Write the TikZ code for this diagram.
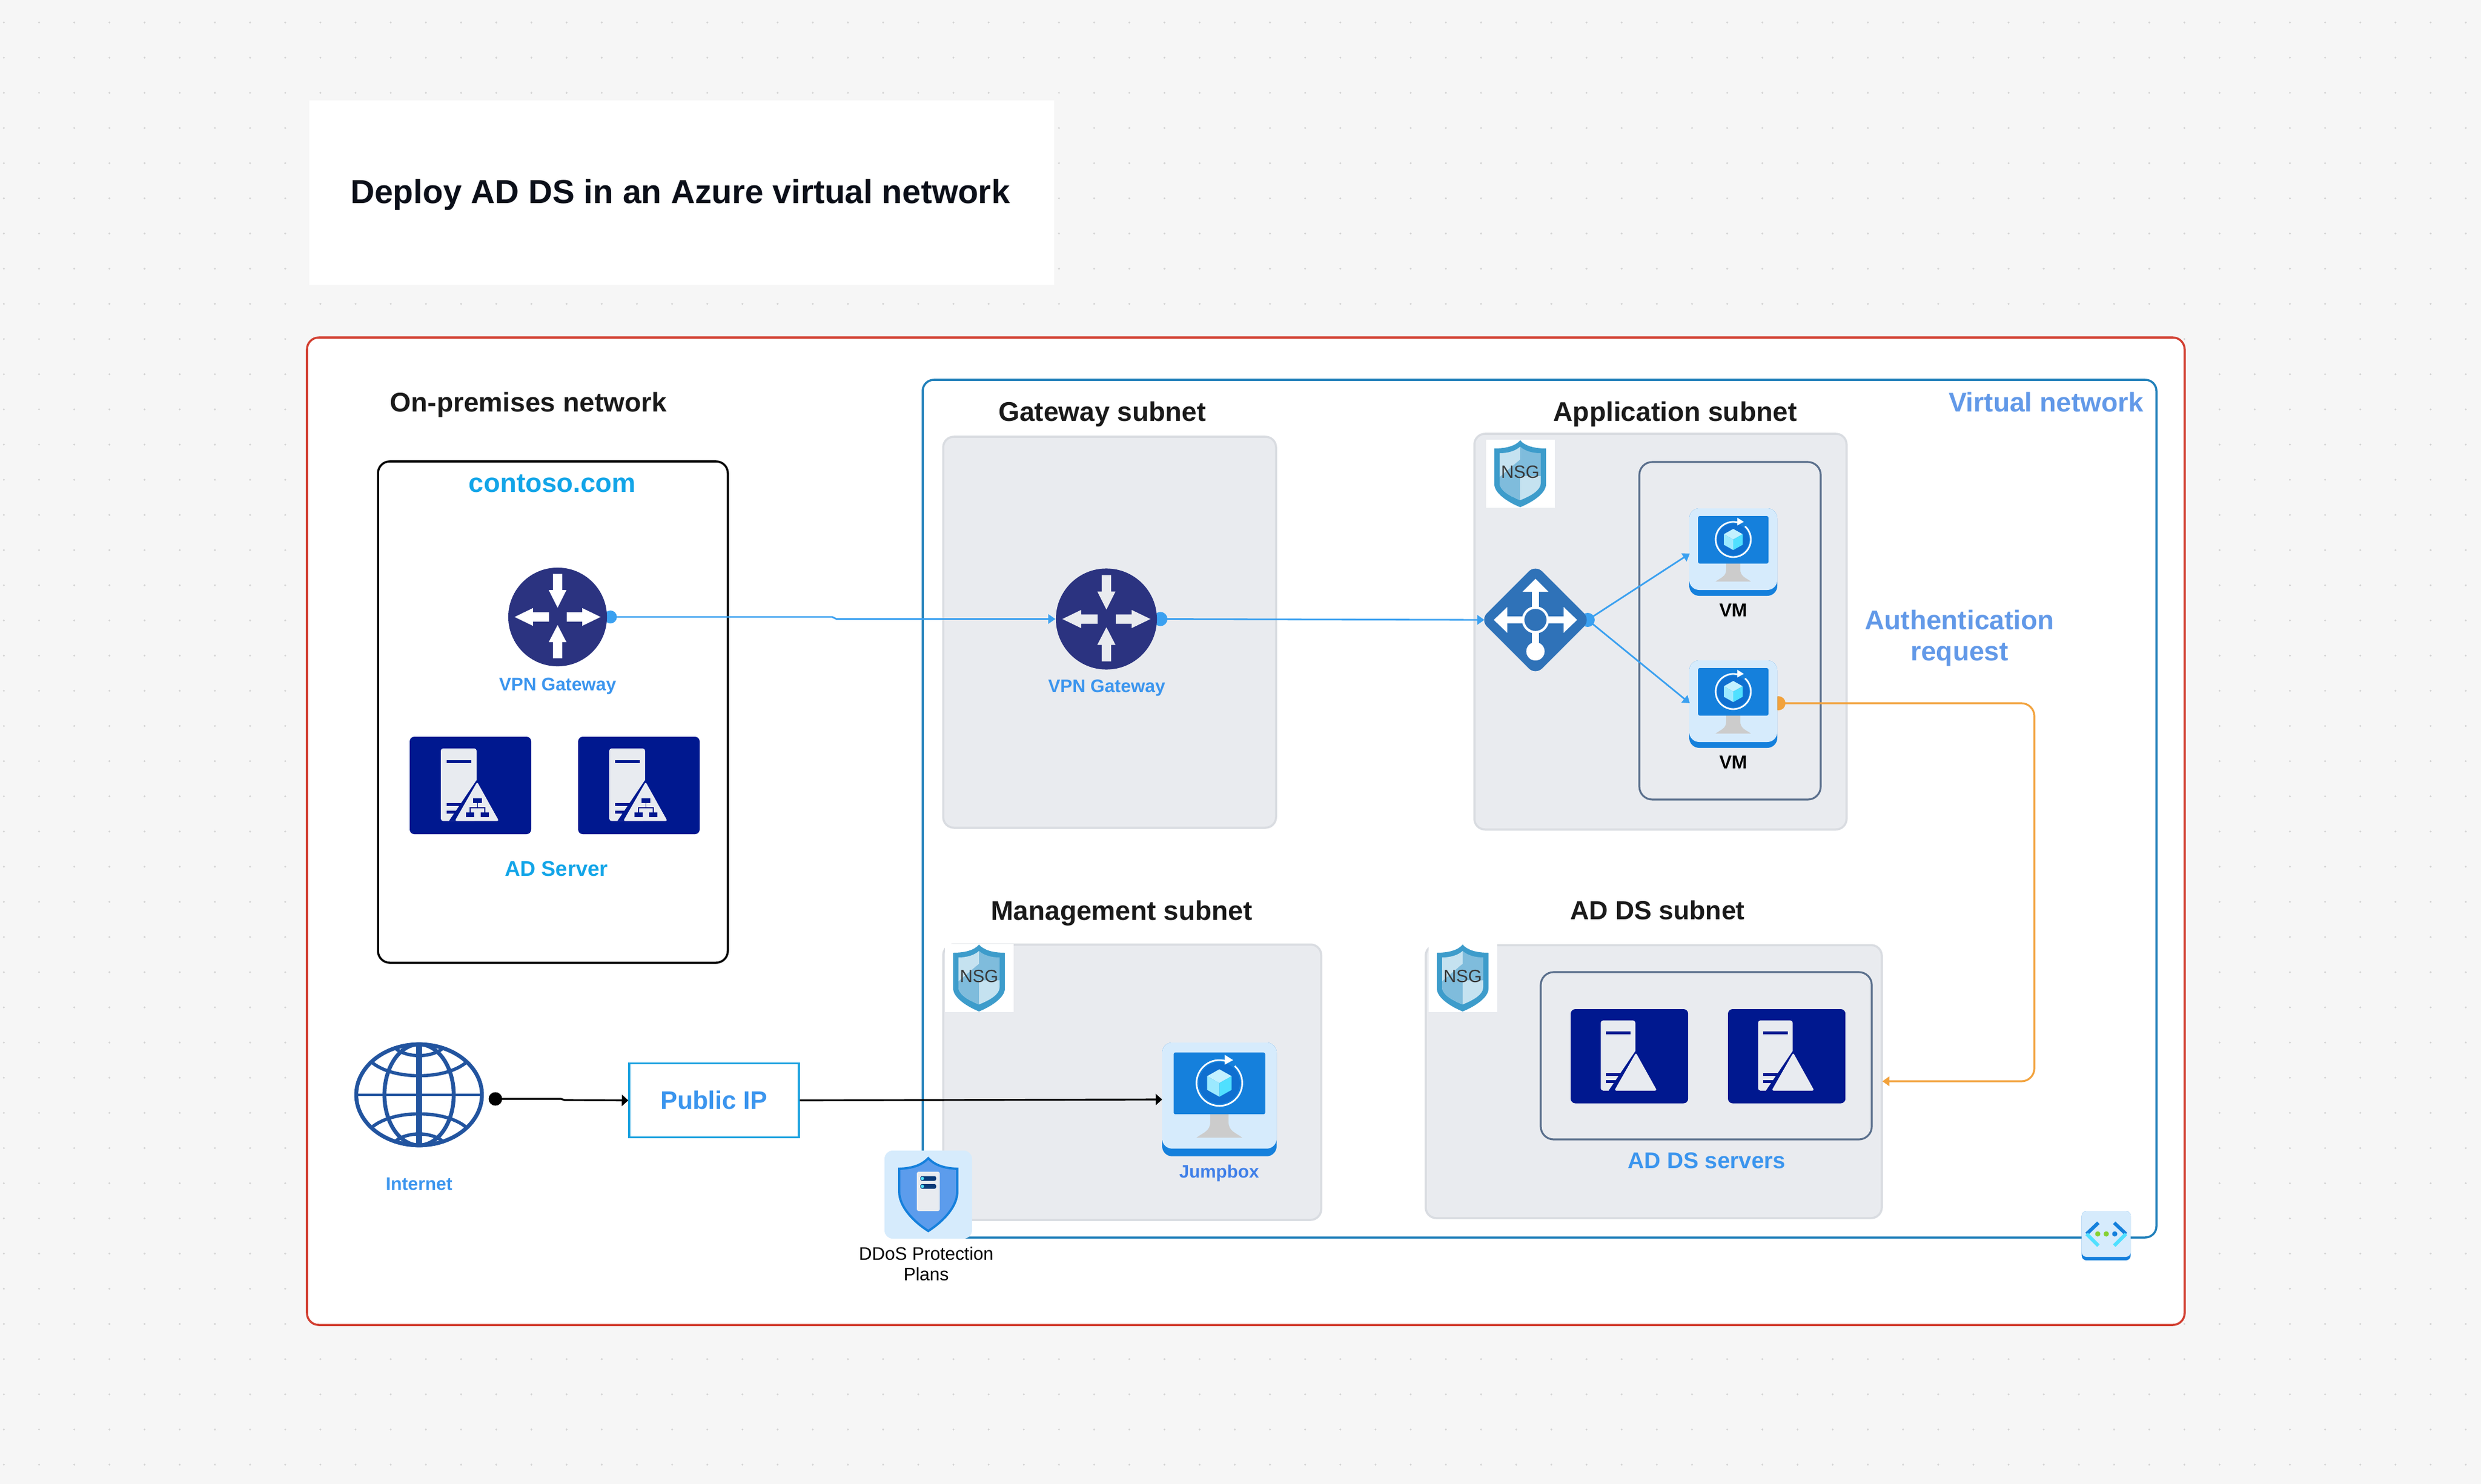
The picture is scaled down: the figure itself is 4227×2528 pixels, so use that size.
\documentclass[tikz,border=0pt]{standalone}
\usepackage{fontspec}
\setmainfont{Liberation Sans}
\usetikzlibrary{arrows.meta,calc}
\definecolor{bgc}{HTML}{F6F6F6}
\definecolor{dotc}{HTML}{D4D4D4}
\definecolor{redb}{HTML}{D23F31}
\definecolor{vnet}{HTML}{2180BA}
\definecolor{subf}{HTML}{E9EBEF}
\definecolor{subd}{HTML}{D9DCE1}
\definecolor{innerb}{HTML}{5A6F8C}
\definecolor{gwc}{HTML}{2B3380}
\definecolor{tilec}{HTML}{00188F}
\definecolor{svrc}{HTML}{E8EBF0}
\definecolor{lblue}{HTML}{3B95EE}
\definecolor{softblue}{HTML}{6299E8}
\definecolor{jumpc}{HTML}{3F7FE8}
\definecolor{sky}{HTML}{12A5E8}
\definecolor{pipc}{HTML}{1FA3E0}
\definecolor{wire}{HTML}{3AA0F0}
\definecolor{amber}{HTML}{F2A23C}
\definecolor{routerc}{HTML}{2F72B8}
\definecolor{tilelight}{HTML}{D6EBFC}
\definecolor{azure}{HTML}{1580DC}
\definecolor{standc}{HTML}{CCCCCC}
\definecolor{cubea}{HTML}{C3F1FF}
\definecolor{cubeb}{HTML}{9CE9FF}
\definecolor{cubec}{HTML}{50E0FF}
\definecolor{ringd}{HTML}{0F6FD0}
\definecolor{shout}{HTML}{3D9CCB}
\definecolor{shpale}{HTML}{C5E2F0}
\definecolor{shdark}{HTML}{7FBCDC}
\definecolor{globec}{HTML}{22549F}
\definecolor{ttl}{HTML}{0B0F19}
\definecolor{headc}{HTML}{1A1A1A}
\definecolor{ddosf}{HTML}{5C9CEC}
\definecolor{ddosr}{HTML}{0A3A78}
\definecolor{leaf}{HTML}{86D133}
\colorlet{gwfg}{white}
\tikzset{
  subnet/.style={draw=subd,fill=subf,line width=1pt,rounded corners=.18cm},
  innerbox/.style={draw=innerb,line width=.9pt,rounded corners=.22cm},
  heading/.style={font=\fontsize{13.1}{15}\selectfont\bfseries,text=headc,inner sep=0pt},
  bluehead/.style={font=\fontsize{13.1}{15}\selectfont\bfseries,text=softblue,inner sep=0pt,align=center},
  smalllabel/.style={font=\fontsize{8.8}{10.4}\selectfont\bfseries,text=lblue,inner sep=0pt},
  wireline/.style={draw=wire,line width=.8pt},
  wirearrow/.style={wireline,-{Triangle[length=.12cm,width=.16cm]}},
  blackline/.style={draw=black,line width=.9pt},
  blackarrow/.style={blackline,-{Triangle[length=.11cm,width=.19cm]}},
  amberarrow/.style={draw=amber,line width=.9pt,rounded corners=.22cm,-{Triangle[length=.12cm,width=.16cm]}},
  portdot/.style={circle,inner sep=0pt,minimum size=#1},
  gateway/.pic={
    \fill[gwc] (0,0) circle[radius=.86cm];
    \fill[gwfg] (-8,-75)--(8,-75)--(8,-47)--(15.5,-47)--(0,-16)--(-15.5,-47)--(-8,-47)--cycle;
    \fill[gwfg] (-8,72)--(8,72)--(8,44)--(15.5,44)--(0,14)--(-15.5,44)--(-8,44)--cycle;
    \fill[gwfg] (-15,-8)--(-43,-8)--(-43,-15.5)--(-75,0)--(-43,15.5)--(-43,8)--(-15,8)--cycle;
    \fill[gwfg] (16,-8)--(43,-8)--(43,-15.5)--(75,0)--(43,15.5)--(43,8)--(16,8)--cycle;
  },
  nsg/.pic={
    \fill[white] (-58,-58) rectangle (59,58);
    \fill[shout] (0,-57) .. controls (-8,-47) and (-25,-43) .. (-44,-43) -- (-44,18) .. controls (-44,33) and (-22,48) .. (0,57)
      .. controls (22,48) and (44,33) .. (44,18) -- (44,-43) .. controls (25,-43) and (8,-47) .. (0,-57) -- cycle;
    \begin{scope}
      \clip (0,-46) .. controls (-8,-39) and (-20,-35) .. (-35,-35) -- (-35,16) .. controls (-35,28) and (-18,38) .. (0,45)
      .. controls (18,38) and (35,28) .. (35,16) -- (35,-35) .. controls (20,-35) and (8,-39) .. (0,-46) -- cycle;
      \fill[shpale] (-40,-50) rectangle (0,50);
      \fill[shdark] (-40,44) -- (-40,10) -- (-5,-20) -- (0,-24) -- (0,50) -- cycle;
      \fill[shdark] (0,-50) rectangle (40,4);
      \fill[shpale] (0,4) rectangle (40,50);
    \end{scope}
    \node[inner sep=0pt,text=black!78,font=\fontsize{8.6}{10}\selectfont] at (0,-3) {NSG};
  },
  vmicon/.pic={
    \fill[azure,rounded corners=.17cm] (0,0) rectangle (150,149);
    \fill[tilelight,rounded corners=.17cm] (0,0) rectangle (150,139);
    \fill[standc] (63,90) -- (87,90) -- (87,104) .. controls (87,116) and (96,118) .. (105,124.5) -- (45,124.5) .. controls (54,118) and (63,116) .. (63,104) -- cycle;
    \fill[azure,rounded corners=.03cm] (15,13) rectangle (135,94);
    \fill[ringd] (75,53) circle[radius=.27cm];
    \draw[white,line width=.8pt] plot[domain=-73:-408,samples=50] ({75+30*cos(\x)},{53+30*sin(\x)});
    \fill[white] (82,16) -- (93,23) -- (82,29) -- cycle;
    \fill[cubea] (75,35) -- (91,44) -- (75,53) -- (59,44) -- cycle;
    \fill[cubeb] (59,44) -- (75,53) -- (75,71) -- (59,62) -- cycle;
    \fill[cubec] (91,44) -- (75,53) -- (75,71) -- (91,62) -- cycle;
  },
  adtile/.pic={
    \fill[tilec,rounded corners=.08cm] (0,0) rectangle (207,166);
    \fill[svrc,rounded corners=.04cm] (53,20) -- (114,20) -- (114,143.5) -- (53,143.5) -- cycle;
    \fill[tilec] (62.5,39.5) rectangle (105,44.5);
    \fill[tilec] (62.5,112.5) rectangle (100,117.5);
    \fill[tilec] (62.5,125.5) rectangle (100,130.5);
    \fill[tilec] (67,143.5) -- (114,74) -- (150,120) -- (150,143.5) -- cycle;
    \fill[svrc,rounded corners=.03cm] (115,77) -- (152,143.5) -- (77,143.5) -- cycle;
  },
  adnet/.pic={
    \fill[tilec] (108,104.5) rectangle (123,112.5);
    \fill[tilec] (96,129) rectangle (110,137);
    \fill[tilec] (121.4,129) rectangle (135,137);
    \draw[tilec,line width=.5pt] (115.5,112) -- (115.5,121) (103,129) -- (103,121) -- (128,121) -- (128,129);
  },
}
\begin{document}
\begin{tikzpicture}[x=.01cm,y=-.01cm]
\useasboundingbox (0,0) rectangle (4227,2528);
\fill[bgc] (0,0) rectangle (4227,2528);
\foreach \i in {0,...,70} {
  \fill[dotc] foreach \j in {0,...,41} { ({6.6+59.92*\i},{38.3+59.92*\j}) circle[radius=.018cm] };
}
% panels
\node[fill=white,minimum width=12.69cm,minimum height=3.14cm,inner sep=0pt,anchor=north west] (titlebox) at (526,170) {};
\node[inner sep=0pt,text=ttl,font=\fontsize{16.15}{20}\selectfont\bfseries] (title) at (1159,332) {Deploy AD DS in an Azure virtual network};
\draw[redb,fill=white,line width=1pt,rounded corners=.2cm] (523,575) rectangle (3722,2257);
\draw[vnet,line width=1pt,rounded corners=.19cm] (1572,647) rectangle (3674,2108);

% on premises
\node[heading] (onprem) at (900.5,690) {On-premises network};
\draw[black,line width=1pt,rounded corners=.2cm] (644,786) rectangle (1240,1640);
\node[inner sep=0pt,text=sky,font=\fontsize{13}{15}\selectfont\bfseries] (contoso) at (941,824) {contoso.com};

\node[portdot=.22cm,fill=wire] (gw1dot) at (1040,1051) {};
\pic[scale=.977] at (950,1051) {gateway};
\node[smalllabel] (gw1lbl) at (950,1169) {VPN Gateway};
\pic at (698,1255) {adtile}; \pic at (698,1255) {adnet};
\pic at (985,1255) {adtile}; \pic at (985,1255) {adnet};
\node[inner sep=0pt,text=sky,font=\fontsize{10.3}{12}\selectfont\bfseries] (adserver) at (948,1480) {AD Server};

% subnets
\draw[subnet] (1607,744) rectangle (2174,1410);
\node[heading] (gwsub) at (1878,706) {Gateway subnet};
\draw[subnet] (2512,739) rectangle (3146,1413);
\node[heading] (appsub) at (2854,706) {Application subnet};
\draw[subnet] (1607,1609) rectangle (2251,2078);
\node[heading] (mgmtsub) at (1911,1556) {Management subnet};
\draw[subnet] (2429,1610) rectangle (3206,2075);
\node[heading,font=\fontsize{12.7}{15}\selectfont\bfseries] (addssub) at (2824,1551) {AD DS subnet};
\node[bluehead] (vnetlbl) at (3486,685) {Virtual network};
\node[bluehead,font=\fontsize{13.1}{15.3}\selectfont\bfseries] (auth) at (3338.5,1087) {Authentication\\request};

\pic at (2590,807) {nsg};
\pic at (1668,1666) {nsg};
\pic at (2492,1666) {nsg};

% inner boxes
\draw[innerbox] (2793,787) rectangle (3102,1362);
\draw[innerbox] (2625,1656) rectangle (3189,1941);

% gateway 2
\node[portdot=.24cm,fill=wire] (gw2dot) at (1977,1054.5) {};
\colorlet{gwfg}{subf}
\pic at (1885,1054.5) {gateway};
\colorlet{gwfg}{white}
\coordinate (gw2in) at (1798,1054.5);
\node[smalllabel] (gw2lbl) at (1885.5,1172) {VPN Gateway};

% router
\node[portdot=.24cm,fill=wire] (rdot) at (2705,1056) {};
\coordinate (rin) at (2529,1056);
\fill[routerc,rounded corners=.16cm] (2616,962) -- (2710,1056) -- (2616,1150) -- (2522,1056) -- cycle;
\begin{scope}[shift={(2616,1056)}]
  \fill[white] (-6,-50) rectangle (6,40);
  \fill[white] (-22,-48) -- (0,-70) -- (22,-48) -- cycle;
  \fill[white] (-50,-6) rectangle (50,6);
  \fill[white] (-48,-22) -- (-71,0) -- (-48,22) -- cycle;
  \fill[white] (48,-22) -- (71,0) -- (48,22) -- cycle;
  \fill[white] (0,53.6) circle[radius=.156cm];
  \fill[routerc,draw=white,line width=1.2pt] (0,0) circle[radius=.21cm];
\end{scope}

% VMs
\pic at (2878,866) {vmicon};
\coordinate (vm1in) at (2879,943);
\node[inner sep=0pt,font=\fontsize{9}{11}\selectfont\bfseries] (vm1lbl) at (2953,1040) {VM};
\node[portdot=.24cm,fill=amber] (vm2dot) at (3030,1198) {};
\pic at (2878,1125) {vmicon};
\coordinate (vm2in) at (2879,1198);
\node[inner sep=0pt,font=\fontsize{9}{11}\selectfont\bfseries] (vm2lbl) at (2953,1299) {VM};

% AD DS servers
\pic[scale=.967] at (2676,1719) {adtile};
\pic[scale=.967] at (2944,1719) {adtile};
\node[inner sep=0pt,text=lblue,font=\fontsize{11}{13}\selectfont\bfseries] (addslbl) at (2908,1977) {AD DS servers};

% jumpbox
\pic[scale=1.3] at (1980,1776) {vmicon};
\coordinate (jumpin) at (1980,1873);
\node[inner sep=0pt,text=jumpc,font=\fontsize{8.7}{10}\selectfont\bfseries] (jumplbl) at (2077,1999) {Jumpbox};

% internet
\begin{scope}[globec,line width=1.9pt]
  \draw (714,1865) ellipse[x radius=1.07cm,y radius=.86cm];
  \draw (714,1865) ellipse[x radius=.59cm,y radius=.86cm];
  \draw[line width=2.6pt] (714,1778) -- (714,1952);
  \draw[line width=1pt] (610,1865) -- (818,1865);
  \draw[line width=1.6pt] (634,1810) .. controls (670,1840) and (758,1840) .. (794,1810);
  \draw[line width=1.6pt] (634,1920) .. controls (670,1890) and (758,1890) .. (794,1920);
  \draw[line width=1.6pt] (675,1787) .. controls (695,1802) and (733,1802) .. (753,1787);
  \draw[line width=1.6pt] (675,1943) .. controls (695,1928) and (733,1928) .. (753,1943);
\end{scope}
\node[smalllabel] (netlbl) at (714,2017) {Internet};
\node[portdot=.23cm,fill=black] (netdot) at (844,1872) {};
\node[draw=pipc,line width=1.1pt,text=lblue,inner sep=0pt,minimum width=2.88cm,minimum height=1.26cm,font=\fontsize{12.3}{14}\selectfont\bfseries] (pip) at (1216.5,1874.5) {Public IP};

% DDoS
\fill[tilelight,rounded corners=.14cm] (1507,1960) rectangle (1656,2110);
\draw[azure,fill=ddosf,line width=1.1pt] (1581.5,1973) .. controls (1570,1985) and (1555,1990) .. (1532,1991) -- (1532,2030) .. controls (1532,2055) and (1555,2080) .. (1581.5,2097) .. controls (1608,2080) and (1631,2055) .. (1631,2030) -- (1631,1991) .. controls (1608,1990) and (1593,1985) .. (1581.5,1973) -- cycle;
\fill[svrc,rounded corners=.03cm] (1562,1996) rectangle (1601,2063);
\fill[ddosr,rounded corners=.03cm] (1568,2003.5) rectangle (1595,2011.5) (1568,2017) rectangle (1595,2025);
\fill[cubec] (1571.5,2007.5) circle[radius=.028cm] (1571.5,2021) circle[radius=.028cm];
\node[inner sep=0pt,align=center,font=\fontsize{8.75}{10.2}\selectfont] (ddoslbl) at (1578,2153) {DDoS Protection\\Plans};

% VNet icon
\fill[azure,rounded corners=.08cm] (3546.7,2063) rectangle (3630,2147);
\fill[tilelight,rounded corners=.08cm] (3546.7,2063) rectangle (3630,2141);
\draw[line width=1.7pt,color=azure] (3575,2083) -- (3555,2102) (3602,2083) -- (3622,2102);
\draw[line width=1.7pt,color=cubec] (3555,2102) -- (3575,2122) (3622,2102) -- (3602,2122);
\fill[leaf] (3574,2102) circle[radius=.045cm] (3588.5,2102) circle[radius=.045cm];
\fill[azure] (3603,2102) circle[radius=.045cm];

% connectors
\coordinate (j1) at (1418,1051);
\coordinate (j2) at (1425,1054.5);
\draw[wirearrow] (gw1dot.center) -- (j1) -- (j2) -- (gw2in);
\draw[wirearrow] (gw2dot.center) -- (rin);
\draw[wirearrow] (rdot.center) -- (vm1in);
\draw[wirearrow] (rdot.center) -- (vm2in);
\coordinate (authc) at (3466,1198);
\coordinate (authd) at (3466,1842);
\coordinate (addsin) at (3207,1842);
\draw[amberarrow] (vm2dot.center) -- (authc) -- (authd) -- (addsin);
\coordinate (k1) at (956,1872);
\coordinate (k2) at (962,1874);
\draw[blackarrow] (netdot.center) -- (k1) -- (k2) -- (pip.west);
\draw[blackarrow] (pip.east) -- (jumpin);
\end{tikzpicture}
\end{document}
